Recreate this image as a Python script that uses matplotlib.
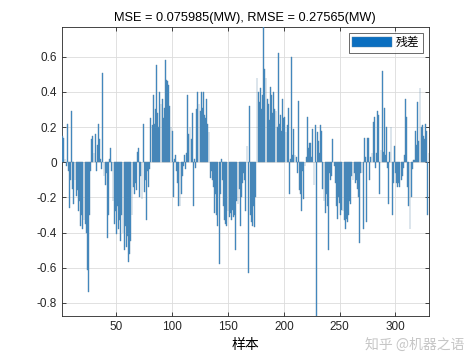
import numpy as np
import matplotlib.pyplot as plt

plt.rcParams['font.family'] = ['Liberation Sans', 'Noto Sans CJK SC', 'DejaVu Sans']

# residuals, sample 1..330
residual = [
    0.37, 0.15, 0.14, 0.02, -0.02, 0.22, -0.05, -0.26, -0.10, 0.29,
    -0.15, -0.24, -0.10, -0.19, -0.16, -0.28, -0.22, -0.36, -0.30, -0.38,
    -0.33, -0.35, -0.40, -0.61, -0.74, -0.30, -0.05, 0.13, 0.15, 0.05,
    0.16, -0.05, 0.10, 0.22, 0.13, 0.02, -0.04, 0.51, -0.08, -0.13,
    -0.06, -0.43, -0.30, 0.02, 0.08, -0.05, -0.22, -0.35, -0.28, -0.41,
    -0.25, -0.38, -0.33, -0.45, -0.30, -0.40, -0.50, -0.36, -0.48, -0.42,
    -0.57, -0.52, -0.45, -0.30, -0.14, -0.18, -0.12, -0.16, 0.06, 0.08,
    -0.20, -0.08, -0.21, 0.22, -0.17, -0.10, -0.33, -0.05, -0.14, -0.04,
    0.25, 0.21, 0.38, 0.22, 0.30, 0.55, 0.28, 0.20, 0.40, 0.33,
    0.36, 0.25, 0.31, 0.58, 0.47, 0.46, 0.44, 0.32, 0.20, 0.18,
    -0.20, 0.02, 0.04, -0.05, -0.12, -0.25, -0.25, -0.18, -0.08, -0.02,
    0.04, -0.04, 0.05, 0.38, 0.16, 0.20, 0.13, 0.28, -0.25, 0.02,
    -0.03, 0.30, 0.40, 0.33, 0.29, 0.40, 0.31, 0.40, 0.27, 0.25,
    0.36, 0.22, 0.17, -0.09, -0.05, -0.10, -0.14, -0.29, -0.18, -0.30,
    -0.36, -0.58, -0.18, 0.02, -0.10, -0.25, -0.33, -0.35, -0.36, -0.28,
    -0.31, -0.29, -0.33, -0.27, -0.31, -0.30, -0.50, -0.22, -0.24, -0.15,
    -0.36, -0.20, -0.12, -0.06, -0.10, -0.28, 0.09, -0.63, 0.32, -0.30,
    -0.34, -0.36, -0.25, -0.37, -0.20, 0.48, 0.40, 0.34, 0.42, 0.30,
    0.38, 0.771, 0.53, 0.48, 0.36, 0.33, 0.24, 0.43, 0.38, 0.28,
    0.40, 0.30, 0.29, 0.20, 0.62, 0.22, 0.27, 0.18, 0.36, 0.25,
    0.26, 0.17, 0.21, 0.31, -0.18, 0.02, 0.60, 0.04, 0.19, 0.04,
    0.03, -0.06, 0.35, -0.16, -0.18, -0.28, -0.05, -0.21, -0.02, 0.03,
    0.26, 0.08, 0.11, 0.11, 0.03, 0.19, -0.13, 0.21, -0.874, 0.17,
    0.12, 0.05, 0.21, 0.18, -0.15, -0.22, -0.29, -0.18, -0.25, -0.50,
    -0.06, -0.10, -0.08, 0.13, -0.02, -0.12, -0.25, -0.32, -0.20, -0.23,
    -0.30, -0.27, -0.28, -0.33, -0.38, -0.32, -0.34, -0.30, -0.22, -0.24,
    -0.08, -0.10, -0.06, -0.12, -0.10, -0.15, -0.20, -0.46, -0.06, -0.06,
    -0.38, 0.14, 0.03, -0.34, 0.14, 0.14, -0.10, 0.03, 0.05, 0.23,
    0.26, -0.03, 0.05, 0.29, 0.27, -0.18, 0.07, 0.52, 0.06, 0.31,
    0.04, 0.20, -0.03, -0.24, 0.06, 0.20, -0.30, -0.12, 0.09, -0.06,
    -0.12, -0.14, -0.12, -0.14, -0.10, -0.08, -0.03, 0.04, 0.36, 0.26,
    -0.14, -0.25, -0.38, -0.20, -0.04, 0.01, 0.01, 0.18, 0.10, 0.34,
    0.12, 0.42, 0.20, 0.21, 0.15, 0.13, 0.22, 0.18, -0.30, 0.05,
]
samples = np.arange(1, len(residual) + 1)
mse = 0.075985
rmse = 0.27565

fig = plt.figure(figsize=(4.74, 3.55), dpi=100)
ax = fig.add_axes([0.13, 0.11, 0.775, 0.815])

ax.bar(samples, residual, width=0.8, color='#3289cd', edgecolor='#5a86a8',
       linewidth=0.3, label='残差', zorder=3)

ax.set_xlim(1, 330)
ax.set_ylim(min(residual), max(residual))
ax.set_xticks([50, 100, 150, 200, 250, 300])
ax.set_yticks([-0.8, -0.6, -0.4, -0.2, 0, 0.2, 0.4, 0.6])
ax.set_yticklabels(['-0.8', '-0.6', '-0.4', '-0.2', '0', '0.2', '0.4', '0.6'])
ax.tick_params(direction='in', length=3, width=0.6, labelsize=8.5,
               colors='#262626', top=True, right=True)
ax.grid(True, color='#dcdcdc', linewidth=0.6, zorder=0)
for sp in ax.spines.values():
    sp.set_color('#262626')
    sp.set_linewidth(0.6)

ax.set_title(f'MSE = {mse}(MW), RMSE = {rmse}(MW)', fontsize=9.2, pad=4)
ax.set_xlabel('样本', fontsize=10, family=['Noto Sans CJK SC', 'DejaVu Sans'])

leg = ax.legend(loc='upper right', prop={'family': ['Noto Sans CJK SC'], 'size': 8.5},
                handlelength=3.4, handleheight=0.9, fancybox=False,
                borderpad=0.3, handletextpad=0.3, borderaxespad=0.5)
leg.get_frame().set_edgecolor('#262626')
leg.get_frame().set_linewidth(0.6)
leg.legend_handles[0].set_facecolor('#0b6fc0')

# watermark
fig.text(0.875, 0.028, '知乎 @机器之语', fontsize=10, color='#b8b8b8', alpha=0.8,
         ha='center', va='center', family=['Noto Sans CJK SC', 'DejaVu Sans'])

fig.savefig('out.png', dpi=100)
